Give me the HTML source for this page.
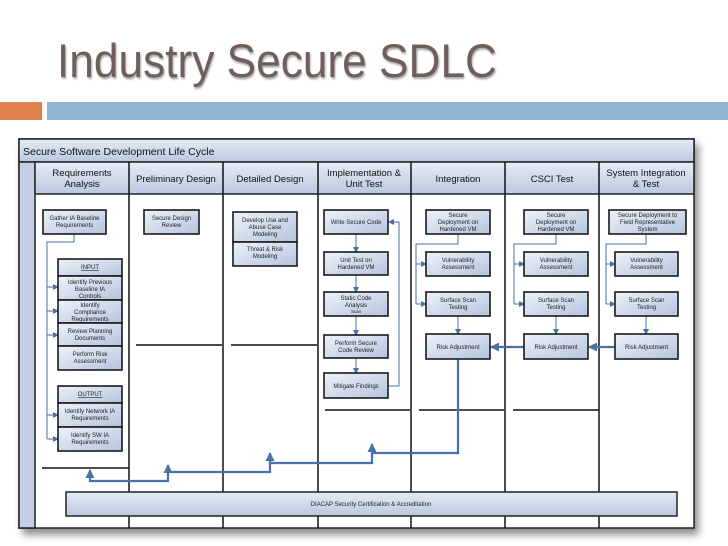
<!DOCTYPE html>
<html><head><meta charset="utf-8"><style>
html,body{margin:0;padding:0;background:#fff}
svg{display:block}
.t{font-family:"Liberation Sans",sans-serif;font-size:6px;fill:#222;text-anchor:middle}
.h{font-family:"Liberation Sans",sans-serif;font-size:9.5px;fill:#111;text-anchor:middle}
.b{fill:url(#g);stroke:#1a1a1a;stroke-width:1.6}
.c{fill:none;stroke:#4a70a8;stroke-width:1}
.c2{fill:none;stroke:#4a70a8;stroke-width:2.2}
.l{stroke:#111;stroke-width:1.5}
</style></head><body>
<svg width="728" height="546" viewBox="0 0 728 546" xmlns="http://www.w3.org/2000/svg">
<defs>
<linearGradient id="g" x1="0" y1="0" x2="1" y2="1"><stop offset="0" stop-color="#eef2f9"/><stop offset="1" stop-color="#b4c4de"/></linearGradient>
<linearGradient id="hg" x1="0" y1="0" x2="0" y2="1"><stop offset="0" stop-color="#e6ecf6"/><stop offset="1" stop-color="#b9c8e0"/></linearGradient>
<marker id="a" markerWidth="6" markerHeight="6" refX="5" refY="3" orient="auto" markerUnits="userSpaceOnUse"><path d="M0,0 L6,3 L0,6z" fill="#4a70a8"/></marker>
<marker id="A" markerWidth="9" markerHeight="9" refX="8" refY="4.5" orient="auto" markerUnits="userSpaceOnUse"><path d="M0,0 L9,4.5 L0,9z" fill="#4a70a8"/></marker>
<filter id="sh" x="-5%" y="-5%" width="115%" height="120%"><feDropShadow dx="4" dy="6" stdDeviation="4" flood-color="#000" flood-opacity="0.45"/></filter>
</defs>
<text x="57" y="77" font-family="Liberation Sans, sans-serif" font-size="47" fill="#6e5f5a" textLength="440" lengthAdjust="spacingAndGlyphs" style="text-shadow:1px 2px 2px #aaa">Industry Secure SDLC</text>
<rect x="0" y="102" width="42" height="18" fill="#e0804a"/>
<rect x="47" y="102" width="681" height="18" fill="#92b3d0"/>

<rect x="19" y="139" width="675" height="389" fill="#fff" stroke="#222" stroke-width="1.5" filter="url(#sh)"/>
<rect x="19" y="139" width="675" height="23" fill="url(#hg)" stroke="#222" stroke-width="1.5"/>
<text x="23" y="155" font-family="Liberation Sans, sans-serif" font-size="10.5" fill="#111">Secure Software Development Life Cycle</text>
<rect x="19" y="162" width="16" height="366" fill="#c3d0e6" stroke="#222" stroke-width="1.5"/>
<rect x="35" y="162" width="659" height="32" fill="url(#hg)" stroke="#222" stroke-width="1.5"/>
<g class="l">
<line x1="129" y1="162" x2="129" y2="528"/><line x1="223" y1="162" x2="223" y2="528"/><line x1="318" y1="162" x2="318" y2="528"/><line x1="411" y1="162" x2="411" y2="528"/><line x1="505" y1="162" x2="505" y2="528"/><line x1="599" y1="162" x2="599" y2="528"/>
<line x1="136" y1="345" x2="222" y2="345"/><line x1="231" y1="345" x2="317" y2="345"/>
<line x1="325" y1="410" x2="410" y2="410"/><line x1="419" y1="410" x2="504" y2="410"/><line x1="513" y1="410" x2="599" y2="410"/>
<line x1="42" y1="468" x2="129" y2="468"/>
</g>
<text class="h" x="82" y="176">Requirements</text><text class="h" x="82" y="187">Analysis</text>
<text class="h" x="176" y="182">Preliminary Design</text>
<text class="h" x="270" y="182">Detailed Design</text>
<text class="h" x="364" y="176">Implementation &amp;</text><text class="h" x="364" y="187">Unit Test</text>
<text class="h" x="458" y="182">Integration</text>
<text class="h" x="552" y="182">CSCI Test</text>
<text class="h" x="646" y="176">System Integration</text><text class="h" x="646" y="187">&amp; Test</text>

<!-- connectors -->
<path class="c" d="M74,234 V242 H47 V439"/>
<path class="c" d="M47,287 H58" marker-end="url(#a)"/><path class="c" d="M47,311 H58" marker-end="url(#a)"/><path class="c" d="M47,335 H58" marker-end="url(#a)"/><path class="c" d="M47,415 H58" marker-end="url(#a)"/><path class="c" d="M47,439 H58" marker-end="url(#a)"/>
<path class="c" d="M356,234 V252" marker-end="url(#a)"/><path class="c" d="M356,275 V292" marker-end="url(#a)"/><path class="c" d="M356,316 V335" marker-end="url(#a)"/><path class="c" d="M356,358 V373" marker-end="url(#a)"/>
<path class="c" d="M388,386 H399 V222 H389" marker-end="url(#a)"/>
<g id="cg">
<path class="c" d="M458,234 V244 H416 V304"/>
<path class="c" d="M416,264 H426" marker-end="url(#a)"/><path class="c" d="M416,304 H426" marker-end="url(#a)"/>
<path class="c" d="M458,316 V334" marker-end="url(#a)"/>
</g>
<use href="#cg" x="98"/>
<path class="c" d="M646,234 V244 H606 V304"/>
<path class="c" d="M606,264 H615" marker-end="url(#a)"/><path class="c" d="M606,304 H615" marker-end="url(#a)"/>
<path class="c" d="M646,316 V334" marker-end="url(#a)"/>
<path class="c2" d="M525,347 H491" marker-end="url(#A)"/>
<path class="c2" d="M615,347 H589" marker-end="url(#A)"/>
<path class="c2" d="M458,359 V453 H372 V444" marker-end="url(#A)"/>
<path class="c2" d="M372,453 V463 H270 V453" marker-end="url(#A)"/>
<path class="c2" d="M270,463 V472 H168 V465" marker-end="url(#A)"/>
<path class="c2" d="M168,472 V481 H90 V470" marker-end="url(#A)"/>

<!-- boxes -->
<g>
<rect class="b" x="43" y="210" width="63" height="24"/><text class="t" x="74.5" y="220">Gather IA Baseline</text><text class="t" x="74.5" y="227">Requirements</text>
<rect class="b" x="58" y="259" width="64" height="17"/><text class="t" x="90" y="269" text-decoration="underline">INPUT</text>
<rect class="b" x="58" y="276" width="64" height="24"/><text class="t" x="90" y="284">Identify Previous</text><text class="t" x="90" y="291">Baseline IA</text><text class="t" x="90" y="298">Controls</text>
<rect class="b" x="58" y="300" width="64" height="23"/><text class="t" x="90" y="307">Identify</text><text class="t" x="90" y="314">Compliance</text><text class="t" x="90" y="321">Requirements</text>
<rect class="b" x="58" y="323" width="64" height="23"/><text class="t" x="90" y="333">Review Planning</text><text class="t" x="90" y="340">Documents</text>
<rect class="b" x="58" y="346" width="64" height="24"/><text class="t" x="90" y="356">Perform Risk</text><text class="t" x="90" y="363">Assessment</text>
<rect class="b" x="58" y="386" width="64" height="17"/><text class="t" x="90" y="396" text-decoration="underline">OUTPUT</text>
<rect class="b" x="58" y="403" width="64" height="24"/><text class="t" x="90" y="413">Identify Network IA</text><text class="t" x="90" y="420">Requirements</text>
<rect class="b" x="58" y="427" width="64" height="24"/><text class="t" x="90" y="437">Identify SW IA</text><text class="t" x="90" y="444">Requirements</text>

<rect class="b" x="144" y="210" width="55" height="24"/><text class="t" x="171.5" y="220">Secure Design</text><text class="t" x="171.5" y="227">Review</text>
<rect class="b" x="233" y="212" width="64" height="30"/><text class="t" x="265" y="222">Develop Use and</text><text class="t" x="265" y="229">Abuse Case</text><text class="t" x="265" y="236">Modeling</text>
<rect class="b" x="233" y="242" width="64" height="24"/><text class="t" x="265" y="251">Threat &amp; Risk</text><text class="t" x="265" y="258">Modeling</text>

<rect class="b" x="324" y="210" width="64" height="24"/><text class="t" x="356" y="224">Write Secure Code</text>
<rect class="b" x="324" y="252" width="64" height="23"/><text class="t" x="356" y="262">Unit Test on</text><text class="t" x="356" y="269">Hardened VM</text>
<rect class="b" x="324" y="292" width="64" height="24"/><text class="t" x="356" y="300">Static Code</text><text class="t" x="356" y="307">Analysis</text><text class="t" x="356" y="313" style="font-size:4.5px">Scan</text>
<rect class="b" x="324" y="335" width="64" height="23"/><text class="t" x="356" y="345">Perform Secure</text><text class="t" x="356" y="352">Code Review</text>
<rect class="b" x="324" y="373" width="64" height="25"/><text class="t" x="356" y="388">Mitigate Findings</text>

<rect class="b" x="426" y="210" width="64" height="24"/><text class="t" x="458" y="217">Secure</text><text class="t" x="458" y="224">Deployment on</text><text class="t" x="458" y="231">Hardened VM</text>
<rect class="b" x="426" y="252" width="64" height="24"/><text class="t" x="458" y="262">Vulnerability</text><text class="t" x="458" y="269">Assessment</text>
<rect class="b" x="426" y="292" width="64" height="24"/><text class="t" x="458" y="302">Surface Scan</text><text class="t" x="458" y="309">Testing</text>
<rect class="b" x="426" y="334" width="64" height="25"/><text class="t" x="458" y="349">Risk Adjustment</text>

<rect class="b" x="524" y="210" width="64" height="24"/><text class="t" x="556" y="217">Secure</text><text class="t" x="556" y="224">Deployment on</text><text class="t" x="556" y="231">Hardened VM</text>
<rect class="b" x="524" y="252" width="64" height="24"/><text class="t" x="556" y="262">Vulnerability</text><text class="t" x="556" y="269">Assessment</text>
<rect class="b" x="524" y="292" width="64" height="24"/><text class="t" x="556" y="302">Surface Scan</text><text class="t" x="556" y="309">Testing</text>
<rect class="b" x="524" y="334" width="64" height="25"/><text class="t" x="556" y="349">Risk Adjustment</text>

<rect class="b" x="609" y="210" width="77" height="24"/><text class="t" x="647.5" y="217">Secure Deployment to</text><text class="t" x="647.5" y="224">Field Representative</text><text class="t" x="647.5" y="231">System</text>
<rect class="b" x="615" y="252" width="63" height="24"/><text class="t" x="646.5" y="262">Vulnerability</text><text class="t" x="646.5" y="269">Assessment</text>
<rect class="b" x="615" y="292" width="63" height="24"/><text class="t" x="646.5" y="302">Surface Scan</text><text class="t" x="646.5" y="309">Testing</text>
<rect class="b" x="615" y="334" width="63" height="25"/><text class="t" x="646.5" y="349">Risk Adjustment</text>

<rect x="66" y="492" width="611" height="24" fill="url(#hg)" stroke="#222" stroke-width="1.5"/>
<text class="t" x="371" y="506">DIACAP Security Certification &amp; Accreditation</text>
</g>
</svg>
</body></html>
